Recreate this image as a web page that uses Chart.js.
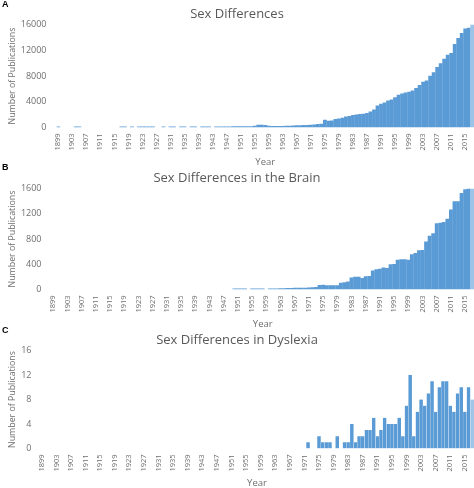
<!DOCTYPE html>
<html>
<head>
    <script src="https://cdn.jsdelivr.net/npm/chart.js@4.4.0/dist/chart.umd.min.js"></script>
    <style>
        body { margin: 0; background: #fff; width: 474px; height: 488px; position: relative; overflow: hidden; }
        .panel { position: absolute; left: 0; width: 474px; }
        .tag { position: absolute; left: 2px; font: bold 9px "Liberation Sans", Arial, sans-serif; line-height: 9px; color: #000; }
    </style>
</head>
<body>
    <div class="panel" style="top:0px;height:168px"><canvas id="chartA" width="474" height="168"></canvas></div>
    <div class="panel" style="top:164px;height:166px"><canvas id="chartB" width="474" height="166"></canvas></div>
    <div class="panel" style="top:326px;height:162px"><canvas id="chartC" width="474" height="163"></canvas></div>
    <div class="tag" style="top:0px">A</div>
    <div class="tag" style="top:163px">B</div>
    <div class="tag" style="top:326px">C</div>

    <script>
        // categories: one per year, 1899 .. 2017
        const years = [];
        for (let y = 1899; y <= 2017; y++) years.push(String(y));

        // Sex Differences (1899, then one row per decade)
        const sexDiff = [
            150,
            null, null, null, null, 150, 150, null, null, null, null,
            null, null, null, null, null, null, null, 150, 150, null,
            150, null, 150, 150, 150, 150, 150, null, null, 150,
            null, 150, 150, null, 150, 150, null, 150, 150, null,
            150, 150, 150, null, 150, 150, 150, 160, 160, 170,
            170, 180, 190, 200, 200, 250, 420, 420, 380, 250,
            220, 220, 230, 240, 250, 270, 290, 330, 360, 380,
            400, 430, 470, 520, 560, 1200, 1050, 1100, 1300, 1400,
            1500, 1700, 1800, 1950, 2000, 2100, 2150, 2250, 2500, 2800,
            3400, 3700, 3900, 4200, 4350, 4700, 5100, 5300, 5450, 5550,
            5750, 6150, 6600, 7100, 7300, 8050, 8600, 9400, 10000, 10700,
            11300, 11600, 13000, 13900, 14700, 15400, 15500, 16000
        ];

        // Sex Differences in the Brain
        const sexDiffBrain = [
            null,
            null, null, null, null, null, null, null, null, null, null,
            null, null, null, null, null, null, null, null, null, null,
            null, null, null, null, null, null, null, null, null, null,
            null, null, null, null, null, null, null, null, null, null,
            null, null, null, null, null, null, null, null, null, null,
            15, 15, 15, 15, null, 15, 15, 15, 15, null,
            15, 16, 16, 18, 20, 22, 24, 25, 26, 27,
            28, 30, 35, 40, 70, 75, 65, 65, 66, 68,
            105, 115, 125, 190, 200, 200, 180, 210, 215, 300,
            320, 330, 350, 340, 400, 405, 470, 480, 480, 470,
            560, 580, 620, 625, 760, 850, 890, 1050, 1060, 1070,
            1120, 1270, 1400, 1400, 1530, 1590, 1600, 1600
        ];

        // Sex Differences in Dyslexia
        const sexDiffDyslexia = [
            null,
            null, null, null, null, null, null, null, null, null, null,
            null, null, null, null, null, null, null, null, null, null,
            null, null, null, null, null, null, null, null, null, null,
            null, null, null, null, null, null, null, null, null, null,
            null, null, null, null, null, null, null, null, null, null,
            null, null, null, null, null, null, null, null, null, null,
            null, null, null, null, null, null, null, null, null, null,
            null, null, 1, null, null, 2, 1, 1, 1, null,
            2, null, 1, 1, 4, 1, 2, 2, 3, 3,
            5, 2, 3, 5, 4, 4, 4, 5, 2, 7,
            12, 2, 6, 8, 7, 9, 11, 6, 10, 11,
            11, 7, 6, 9, 10, 6, 10, 8
        ];

        const yTicksA = [0, 4000, 8000, 12000, 16000];
        const yTicksB = [0, 400, 800, 1200, 1600];
        const yTicksC = [0, 4, 8, 12, 16];

        const BLUE = '#5b9bd5';
        const LAST = '#9cc3e8';

        Chart.defaults.font.family = "'Open Sans', sans-serif";
        Chart.defaults.color = '#6f6f6f';

        function creaGrafico(id, titolo, valori, yTicks, separatori, larghezzaY, padY) {
            const ctx = document.getElementById(id).getContext('2d');
            return new Chart(ctx, {
                type: 'bar',
                data: {
                    labels: years,
                    datasets: [{
                        data: valori,
                        backgroundColor: c => c.dataIndex === years.length - 1 ? LAST : BLUE,
                        borderColor: 'rgba(255,255,255,0.55)',
                        borderWidth: separatori ? {left: 0.4, right: 0.4, top: 0, bottom: 0} : 0,
                        barPercentage: separatori ? 1 : 1.08,
                        categoryPercentage: 1
                    }]
                },
                options: {
                    responsive: false,
                    animation: false,
                    layout: {padding: 0},
                    plugins: {
                        legend: {display: false},
                        tooltip: {enabled: false},
                        title: {
                            display: true,
                            text: titolo,
                            color: '#595959',
                            font: {size: 13, weight: 'normal'},
                            padding: {top: 6, bottom: 3}
                        }
                    },
                    scales: {
                        x: {
                            grid: {display: false, drawTicks: false},
                            border: {display: false},
                            afterFit: scale => { scale.paddingRight = 0; scale.paddingLeft = 0; },
                            ticks: {
                                autoSkip: false,
                                minRotation: 90,
                                maxRotation: 90,
                                padding: 6,
                                font: {size: 7.5},
                                callback: (v, i) => i % 4 === 0 ? years[i] : null
                            },
                            title: {
                                display: true,
                                text: 'Year',
                                color: '#6f6f6f',
                                font: {size: 9.5},
                                padding: {top: 0, bottom: 0}
                            }
                        },
                        y: {
                            min: yTicks[0],
                            max: yTicks[yTicks.length - 1],
                            grid: {display: false, drawTicks: false},
                            border: {display: false},
                            afterFit: scale => { scale.width = larghezzaY; },
                            ticks: {
                                stepSize: yTicks[1] - yTicks[0],
                                padding: padY,
                                font: {size: 9},
                                callback: v => String(v)
                            },
                            title: {
                                display: true,
                                text: 'Number of Publications',
                                color: '#6f6f6f',
                                font: {size: 8.8},
                                padding: {top: 7, bottom: 3}
                            }
                        }
                    }
                }
            });
        }

        creaGrafico('chartA', 'Sex Differences', sexDiff, yTicksA, false, 56.5, 10);
        creaGrafico('chartB', 'Sex Differences in the Brain', sexDiffBrain, yTicksB, false, 51.5, 10);
        creaGrafico('chartC', 'Sex Differences in Dyslexia', sexDiffDyslexia, yTicksC, true, 40, 8.5);
    </script>
</body>
</html>
